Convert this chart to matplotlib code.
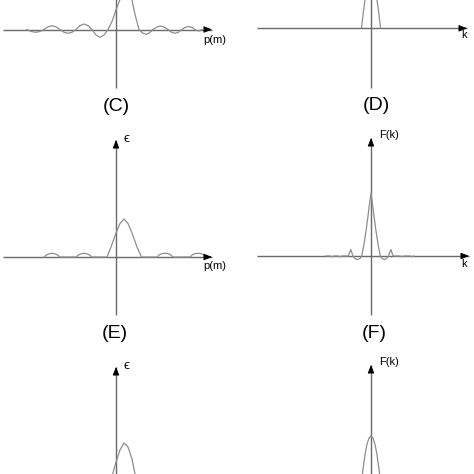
import matplotlib.pyplot as plt
import numpy as np

# curve samples, in pixels relative to each panel's origin
# (C) oscillating response
c_x = [-89, -85, -80.5, -76, -72, -68, -64, -60, -56, -52, -48, -44, -40, -36, -32, -28,
       -24, -20, -16, -12, -8, -4, 0, 4, 7, 10, 13, 16, 19, 23, 26.5, 30, 33.5, 37, 41,
       44.5, 48, 52, 55.5, 59, 62.5, 66, 69, 72.5, 76, 79, 81, 82.5, 84, 86]
c_y = [0, -2, -2.8, -2, 0, 2.7, 3.8, 2.7, 0, -2.7, -3.8, -2.7, 0, 3.9, 5.5, 3.9,
       0, -5.5, -7.8, -5.5, 0, 8, 19.5, 30, 38, 42, 38, 29.5, 15, 0, -3.4, -4.8, -3.4, 0, 2.5,
       3.5, 2.5, 0, -2.7, -3.8, -2.7, 0, 2.1, 3, 2.1, 0, -1, -1.5, -1, 0]

# (D) and bottom-right: narrow spectral peak
d_x = [-9.5, -8, -6, -4, -2, 0, 2, 4, 6, 8, 9.5]
d_y = [0, 13.7, 28.3, 38.7, 44.9, 47, 44.9, 38.7, 28.3, 13.7, 0]

# (E) rectified lobes
e_x = [-72, -69, -66.5, -64, -61.5, -59, -56, -40, -37, -34.5, -32, -29.5, -27, -24,
       -9, -5, 0, 4, 8, 12, 16, 21, 25.5,
       41, 43.5, 46, 49, 52, 54.5, 57, 74, 76.5, 79, 82, 85, 87.5, 90]
e_y = [0, 2.3, 3.4, 3.7, 3.4, 2.3, 0, 0, 2.3, 3.4, 3.7, 3.4, 2.3, 0,
       0, 10, 24, 33.5, 38, 33.5, 24, 10, 0,
       0, 2.3, 3.4, 3.7, 3.4, 2.3, 0, 0, 2.3, 3.4, 3.7, 3.4, 2.3, 0]

# (F) peak with side spikes
f_x = [-45, -41, -39, -37, -33, -31, -29, -22.7, -21.5, -20.3, -19.5, -18, -16, -13.7, -11,
       -9.3, -7, -5, -3, -1.5, 0, 1.5, 3, 5, 7, 9.3,
       11, 13.3, 15.5, 17.5, 19, 20, 21, 22.3, 29, 31, 33, 39, 41, 43]
f_y = [0, 0, -0.8, 0, 0, -0.8, 0, 0, 3, 6.4, 4.5, 0, -2.5, -3.6, -2.5,
       0, 12, 25, 40, 52, 63, 52, 40, 25, 12, 0,
       -2.5, -3.6, -2.5, 0, 4.5, 6.4, 3, 0, 0, -0.8, 0, 0, -0.8, 0]

# bottom-left lobe
g_x = [-6, -3.3, 0, 4, 8, 12, 16, 19, 21]
g_y = [0, 10, 22, 34, 41, 37, 25, 10, 0]

W = H = 474
fig = plt.figure(figsize=(4.74, 4.74), dpi=100)

AXIS_C = '#6a6a6a'
CURVE_C = '#8e8e8e'
FONT = ['Liberation Sans', 'DejaVu Sans']


def panel(ox, oy, x_end, x_start, y_top, y_bot):
    # whole-figure axes with its origin at pixel (ox, oy), y pointing up
    ax = fig.add_axes([0, 0, 1, 1])
    ax.set_xlim(-ox, W - ox)
    ax.set_ylim(oy - H, oy)
    ax.axis('off')
    ax.plot([x_start, x_end], [0, 0], color=AXIS_C, lw=1.0, solid_capstyle='butt')
    ax.plot([0, 0], [y_bot, y_top], color=AXIS_C, lw=1.0, solid_capstyle='butt')
    head = dict(arrowstyle='-|>,head_length=0.5,head_width=0.2', color='black',
                lw=0.6, shrinkA=0, shrinkB=0)
    ax.annotate('', xy=(x_end, 0), xytext=(x_end - 7, 0), arrowprops=head)
    ax.annotate('', xy=(0, y_top), xytext=(0, y_top - 7), arrowprops=head)
    return ax


# (C)
ax = panel(116, 29.5, 96, -113, 117, -58.5)
ax.plot(c_x, c_y, color=CURVE_C, lw=0.9)
ax.text(98.5, -10.5, 'p(m)', fontsize=8, family=FONT, ha='center', va='center')
ax.text(0, -76.5, '(C)', fontsize=14, family=FONT, ha='center', va='center')

# (D)
ax = panel(371, 28.3, 96, -114, 118, -59.7)
ax.plot(d_x, d_y, color=CURVE_C, lw=0.9)
ax.text(93, -7, 'k', fontsize=8, family=FONT, ha='center', va='center')
ax.text(5, -77.7, '(D)', fontsize=14, family=FONT, ha='center', va='center')

# (E)
ax = panel(116, 257, 96, -113, 117, -58)
ax.plot(e_x, e_y, color=CURVE_C, lw=0.9)
ax.text(10, 118, '\u03f5', fontsize=9.5, family=FONT, ha='center', va='center')
ax.text(98.5, -9, 'p(m)', fontsize=8, family=FONT, ha='center', va='center')
ax.text(-1, -76, '(E)', fontsize=14, family=FONT, ha='center', va='center')

# (F)
ax = panel(371, 256, 98, -114, 118, -59)
ax.plot(f_x, f_y, color=CURVE_C, lw=0.9)
ax.text(18.5, 121, 'F(k)', fontsize=8, family=FONT, ha='center', va='center')
ax.text(93, -8, 'k', fontsize=8, family=FONT, ha='center', va='center')
ax.text(3.5, -77, '(F)', fontsize=14, family=FONT, ha='center', va='center')

# bottom-left
ax = panel(116, 484, 96, -113, 117, -58)
ax.plot(g_x, g_y, color=CURVE_C, lw=0.9)
ax.text(10, 118, '\u03f5', fontsize=9.5, family=FONT, ha='center', va='center')

# bottom-right
ax = panel(371, 483, 98, -114, 118, -59)
ax.plot(d_x, d_y, color=CURVE_C, lw=0.9)
ax.text(18.5, 121, 'F(k)', fontsize=8, family=FONT, ha='center', va='center')

fig.savefig('out.png', dpi=100, facecolor='white')
